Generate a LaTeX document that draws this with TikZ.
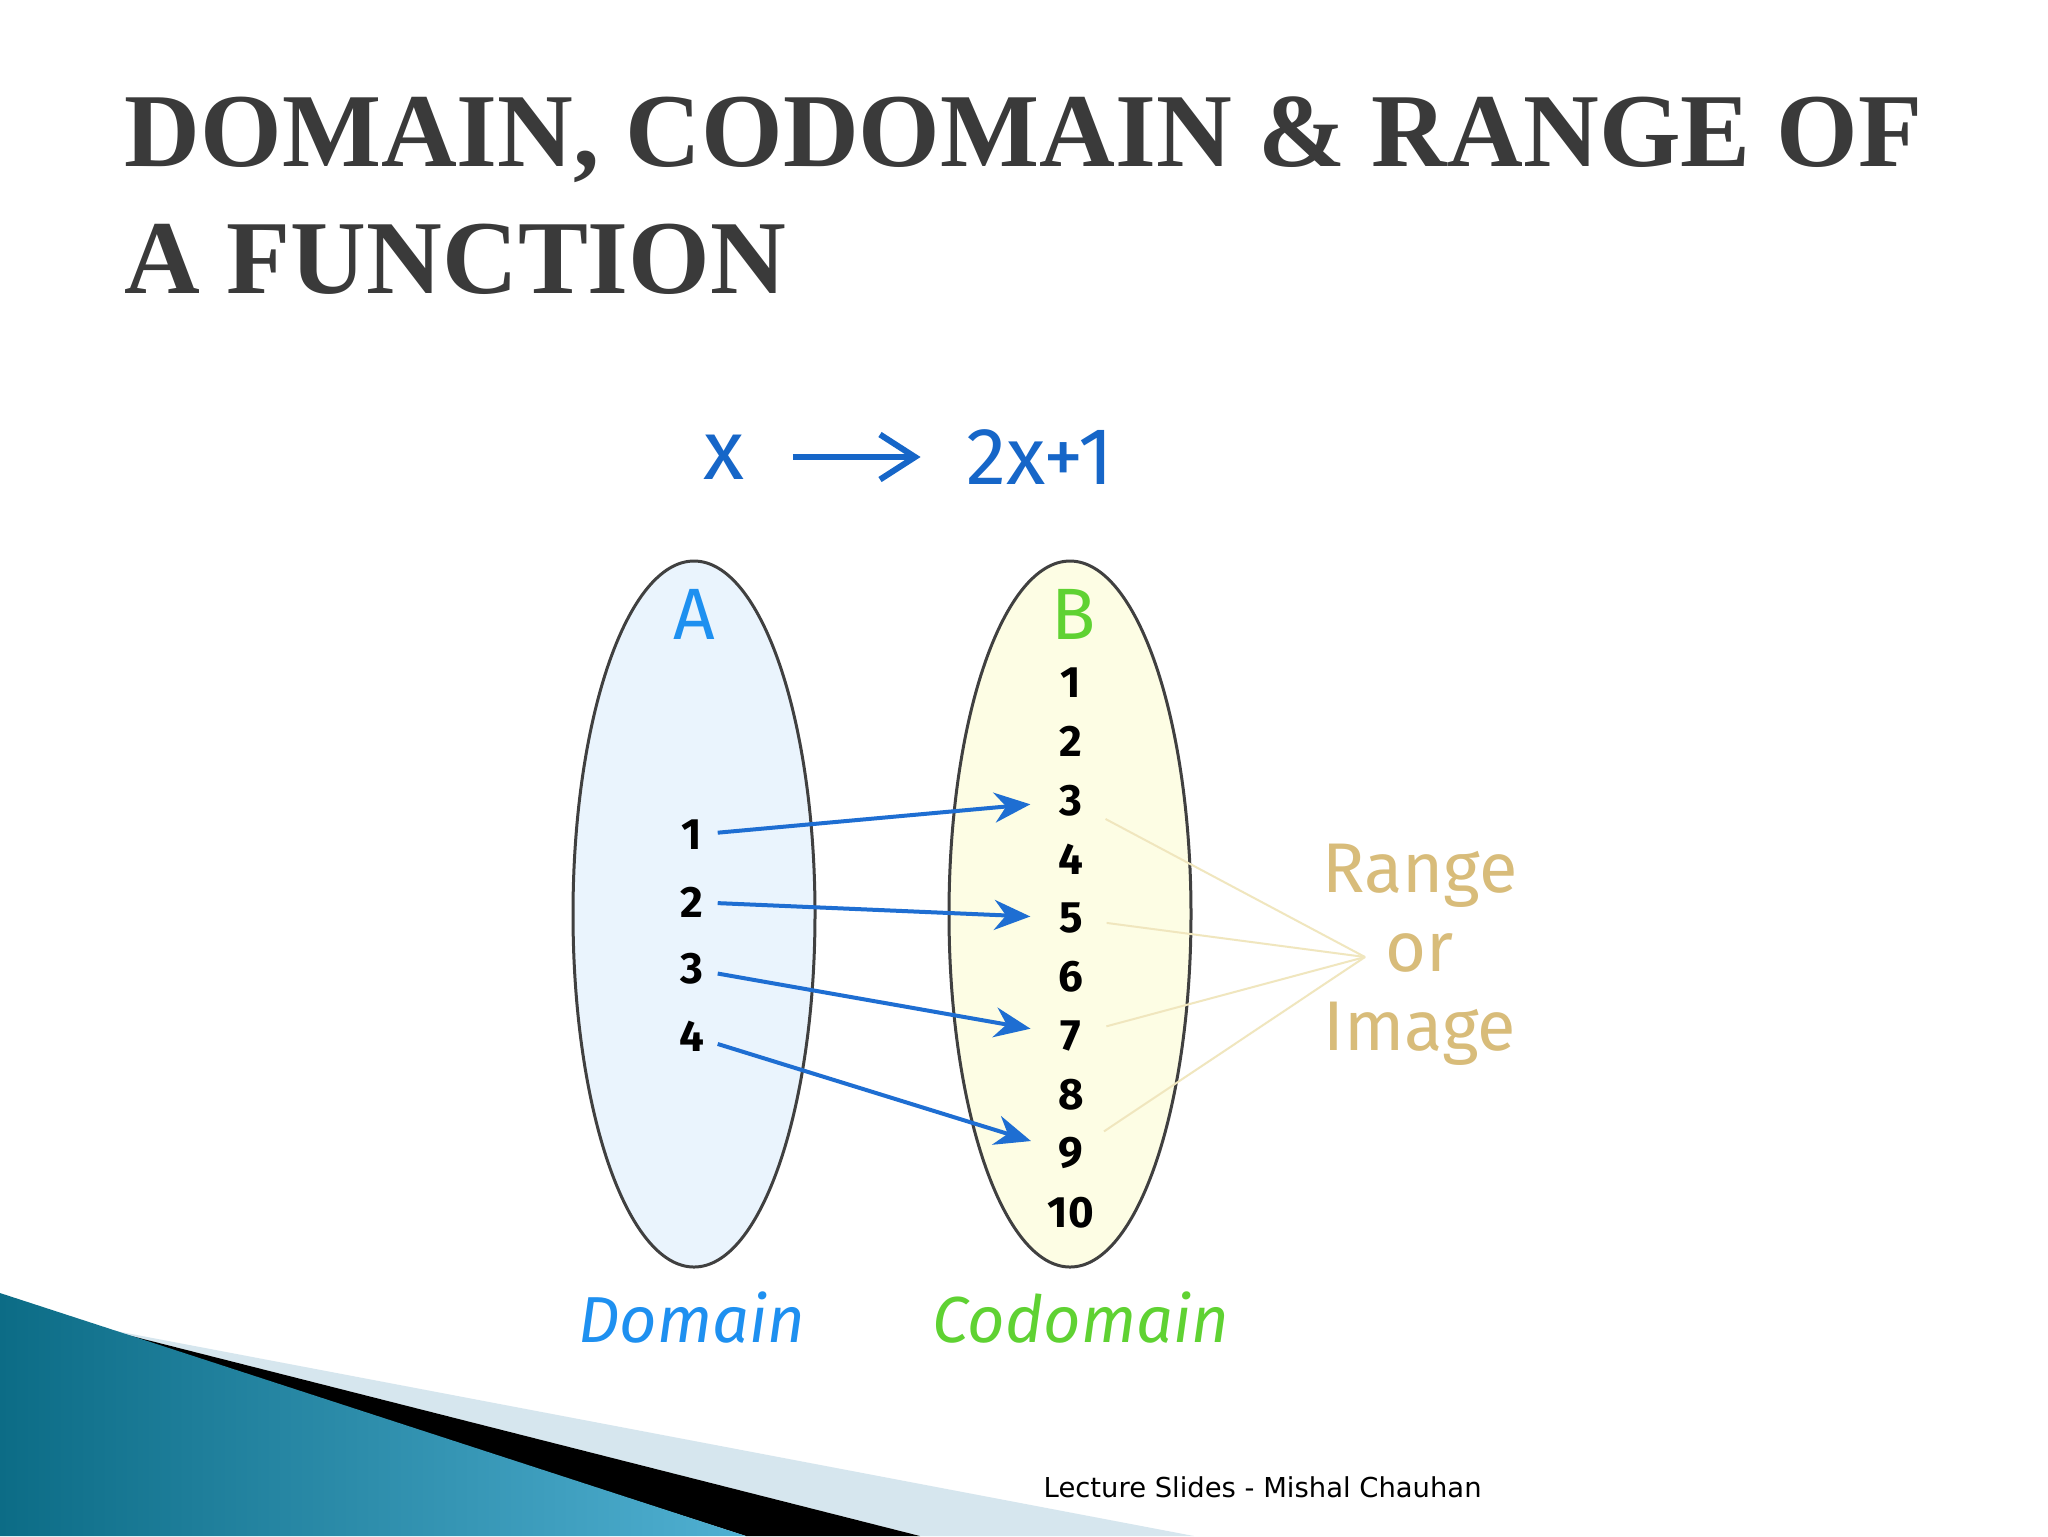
\documentclass[tikz,border=0pt]{standalone}
\usepackage{fontspec}
\setmainfont{Liberation Serif}
\newfontfamily\handfont{Fira Sans}
\newfontfamily\footfont{DejaVu Sans}
\usetikzlibrary{arrows.meta, shapes.geometric}

\definecolor{titlegray}{RGB}{58,58,58}
\definecolor{mapblue}{RGB}{22,102,200}
\definecolor{arrowblue}{RGB}{30,110,210}
\definecolor{setAblue}{RGB}{30,144,240}
\definecolor{setBgreen}{RGB}{95,210,50}
\definecolor{rangetan}{RGB}{216,188,122}
\definecolor{rangeline}{RGB}{240,230,190}
\definecolor{fillA}{RGB}{234,244,253}
\definecolor{fillB}{RGB}{253,253,228}
\definecolor{tealdark}{RGB}{12,108,134}
\definecolor{teallight}{RGB}{80,176,210}
\definecolor{bandblue}{RGB}{214,230,238}

\begin{document}
\begin{tikzpicture}[x=0.1mm, y=-0.1mm,
		setnode/.style={ellipse, draw=black!75, line width=0.3mm, minimum width=24.2mm, minimum height=70.6mm, inner sep=0},
		numnode/.style={font=\handfont\bfseries\fontsize{12.5}{15}\selectfont, minimum width=5mm, inner sep=0},
		maparrow/.style={-{Stealth[length=3.6mm, width=3mm]}, arrowblue, line width=0.4mm, shorten >=1.5mm},
		rangelink/.style={rangeline, line width=0.2mm, shorten <=1mm}]
		\def\dA{67};
		\def\dB{58.8};
		
		\useasboundingbox (0,0) rectangle (2048,1536);
		\fill[white] (0,0) rectangle (2048,1536);
		
		\begin{scope}
			\fill[bandblue] (100,1328) -- (1194,1536) -- (920,1536) -- cycle;
			\fill[black] (100,1328) -- (920,1536) -- (746,1536) -- cycle;
			\shade[left color=tealdark, right color=teallight] (0,1293) -- (746,1536) -- (0,1536) -- cycle;
		\end{scope}
		
		\node[font=\bfseries\fontsize{29.85}{36}\selectfont, text=titlegray, anchor=base west, inner sep=0] (title1) at (124,166) {DOMAIN, CODOMAIN \& RANGE OF};
		\node[font=\bfseries\fontsize{29.85}{36}\selectfont, text=titlegray, anchor=base west, inner sep=0] (title2) at (124,293) {A FUNCTION};
		
		\node[font=\handfont\fontsize{24}{28}\selectfont, text=mapblue] (x) at (724,457) {x};
		\node[font=\handfont\fontsize{23}{28}\selectfont, text=mapblue] (fx) at (1040,457) {2x+1};
		\draw[-{Straight Barb[length=3.5mm, width=4.5mm]}, mapblue, line width=0.6mm, shorten <=3.6mm, shorten >=3.4mm] (x) -- (fx);
		
		\node[setnode, fill=fillA] (setA) at (694,914) {};
		\node[setnode, fill=fillB] (setB) at (1070,914) {};
		\node[font=\handfont\fontsize{20.7}{24}\selectfont, text=setAblue] (labA) at (694,614) {A};
		\node[font=\handfont\fontsize{20.7}{24}\selectfont, text=setBgreen] (labB) at (1074,614) {B};
		
		\foreach \i in {1,...,4}
			\node[numnode] (a\i) at (692, {835+(\i-1)*\dA}) {\i};
		\foreach \i in {1,...,10}
			\node[numnode] (b\i) at (1071, {683+(\i-1)*\dB}) {\i};
		
		\foreach \i in {1,...,4} {
			\pgfmathtruncatemacro\j{2*\i+1}
			\draw[maparrow] (a\i) -- (b\j);
		}
		
		\coordinate (rng) at (1365,957);
		\foreach \j in {3,5,7,9}
			\draw[rangelink] (b\j) -- (rng);
		\node[font=\handfont\fontsize{20}{22.5}\selectfont, text=rangetan, align=center] (rangelbl) at (1420,955) {Range\\or\\Image};
		
		\node[font=\handfont\itshape\fontsize{18.5}{22}\selectfont, text=setAblue] (domlbl) at (692,1317) {Domain};
		\node[font=\handfont\itshape\fontsize{18.5}{22}\selectfont, text=setBgreen] (codomlbl) at (1081,1317) {Codomain};
		
		\node[font=\footfont\fontsize{7.8}{9}\selectfont, anchor=base west, inner sep=0] (footer) at (1043,1497) {Lecture Slides - Mishal Chauhan};
	\end{tikzpicture}
\end{document}
